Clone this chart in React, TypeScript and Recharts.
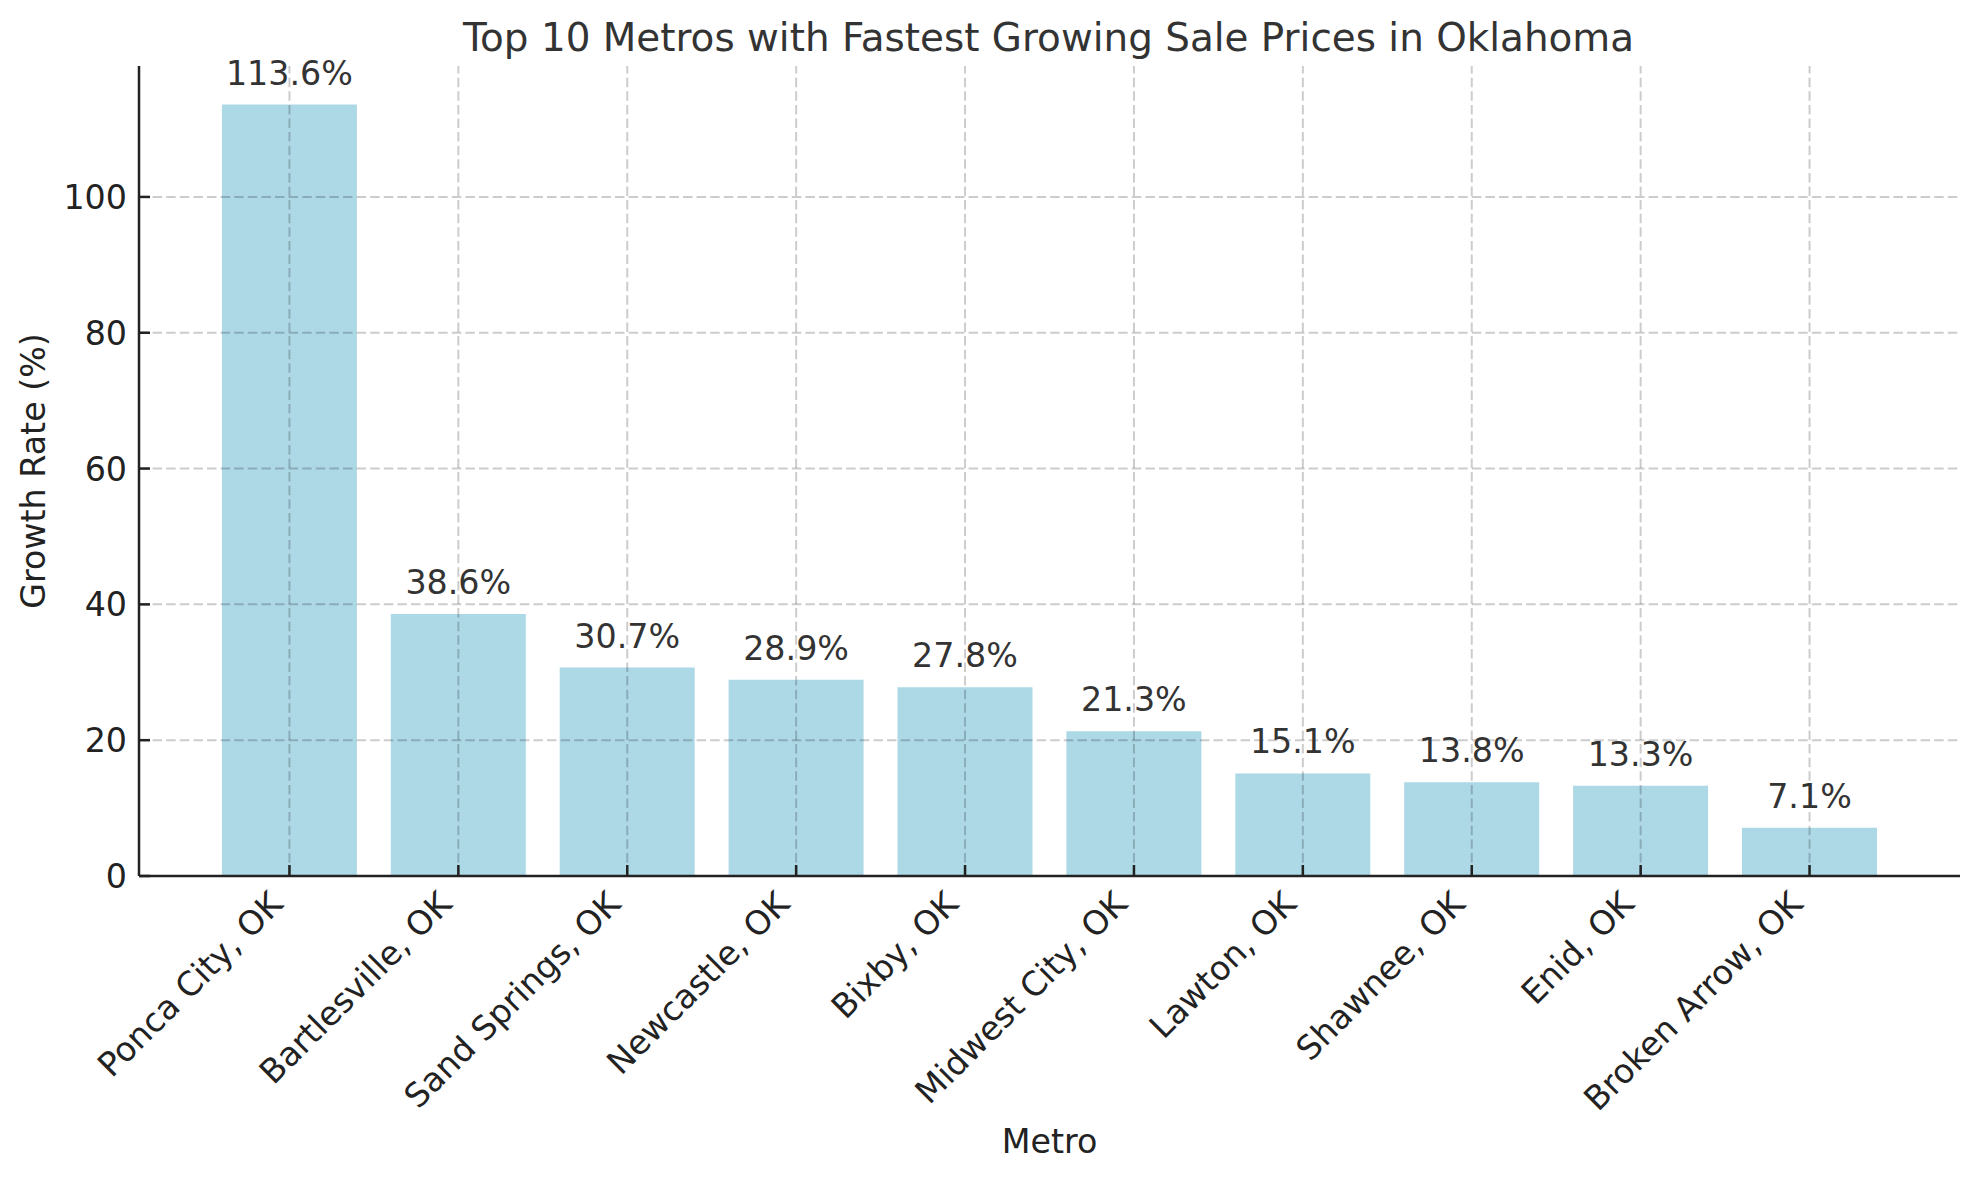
import { Bar, BarChart, LabelList, ReferenceLine, XAxis, YAxis } from "recharts";

const metros = [
  "Ponca City, OK",
  "Bartlesville, OK",
  "Sand Springs, OK",
  "Newcastle, OK",
  "Bixby, OK",
  "Midwest City, OK",
  "Lawton, OK",
  "Shawnee, OK",
  "Enid, OK",
  "Broken Arrow, OK",
];
const growthRates = [113.6, 38.6, 30.7, 28.9, 27.8, 21.3, 15.1, 13.8, 13.3, 7.1];
const yTicks = [0, 20, 40, 60, 80, 100];

const data = metros.map((metro, i) => ({ metro, growth: growthRates[i] }));
// matplotlib-style 5% headroom above the tallest bar
const yMax = Math.max(...growthRates) * 1.05;

const FONT = "'DejaVu Sans', sans-serif";
const FS = 33.3;
const gridStyle = { stroke: "rgba(0,0,0,0.2)", strokeWidth: 2, strokeDasharray: "9.5 4.1" };

function XTick({ x, y, payload }: any) {
  const tx = x - 5;
  const ty = y + 30;
  return (
    <g>
      <line x1={x} x2={x} y1={y} y2={y - 11} stroke="#222" strokeWidth={2.5} />
      <text
        x={tx}
        y={ty}
        transform={`rotate(-45 ${tx} ${ty})`}
        textAnchor="end"
        fontSize={FS}
        fontFamily={FONT}
        fill="#222"
      >
        {payload.value}
      </text>
    </g>
  );
}

function YTick({ x, y, payload }: any) {
  return (
    <g>
      <line x1={x} x2={x + 11} y1={y} y2={y} stroke="#222" strokeWidth={2.5} />
      <text x={x - 12} y={y + 12} textAnchor="end" fontSize={FS} fontFamily={FONT} fill="#222">
        {payload.value}
      </text>
    </g>
  );
}

function BarValue({ x, y, width, value }: any) {
  return (
    <text
      x={x + width / 2}
      y={y - 20}
      textAnchor="middle"
      fontSize={FS}
      fontFamily={FONT}
      fill="#333"
    >
      {`${Number(value).toFixed(1)}%`}
    </text>
  );
}

export default function App() {
  return (
    <div style={{ position: "absolute", left: 0, top: 0, width: 1979, height: 1180, background: "#fff" }}>
      <BarChart
        width={1979}
        height={1180}
        data={data}
        margin={{ top: 66, right: 19, bottom: 0, left: 0 }}
        barCategoryGap="10%"
      >
        <XAxis
          dataKey="metro"
          height={304}
          padding={{ left: 66, right: 66 }}
          axisLine={{ stroke: "#222", strokeWidth: 2.5 }}
          tickLine={false}
          tickSize={0}
          tickMargin={0}
          interval={0}
          tick={<XTick />}
        />
        <YAxis
          type="number"
          width={139}
          domain={[0, yMax]}
          ticks={yTicks}
          axisLine={{ stroke: "#222", strokeWidth: 2.5 }}
          tickLine={false}
          tickSize={0}
          tickMargin={0}
          tick={<YTick />}
        />
        <Bar dataKey="growth" fill="#ADD8E6" isAnimationActive={false}>
          <LabelList dataKey="growth" content={<BarValue />} />
        </Bar>
        {yTicks
          .filter((t) => t > 0)
          .map((t) => (
            <ReferenceLine key={`h${t}`} y={t} {...gridStyle} />
          ))}
        {metros.map((m) => (
          <ReferenceLine key={`v${m}`} x={m} {...gridStyle} />
        ))}
      </BarChart>
      <svg
        width={1979}
        height={1180}
        style={{ position: "absolute", left: 0, top: 0, pointerEvents: "none" }}
      >
        <text x={1048.5} y={51} textAnchor="middle" fontSize={38.9} fontFamily={FONT} fill="#333">
          Top 10 Metros with Fastest Growing Sale Prices in Oklahoma
        </text>
        <text x={1049.5} y={1153} textAnchor="middle" fontSize={FS} fontFamily={FONT} fill="#222">
          Metro
        </text>
        <text
          x={45}
          y={471}
          transform="rotate(-90 45 471)"
          textAnchor="middle"
          fontSize={FS}
          fontFamily={FONT}
          fill="#222"
        >
          Growth Rate (%)
        </text>
      </svg>
    </div>
  );
}
